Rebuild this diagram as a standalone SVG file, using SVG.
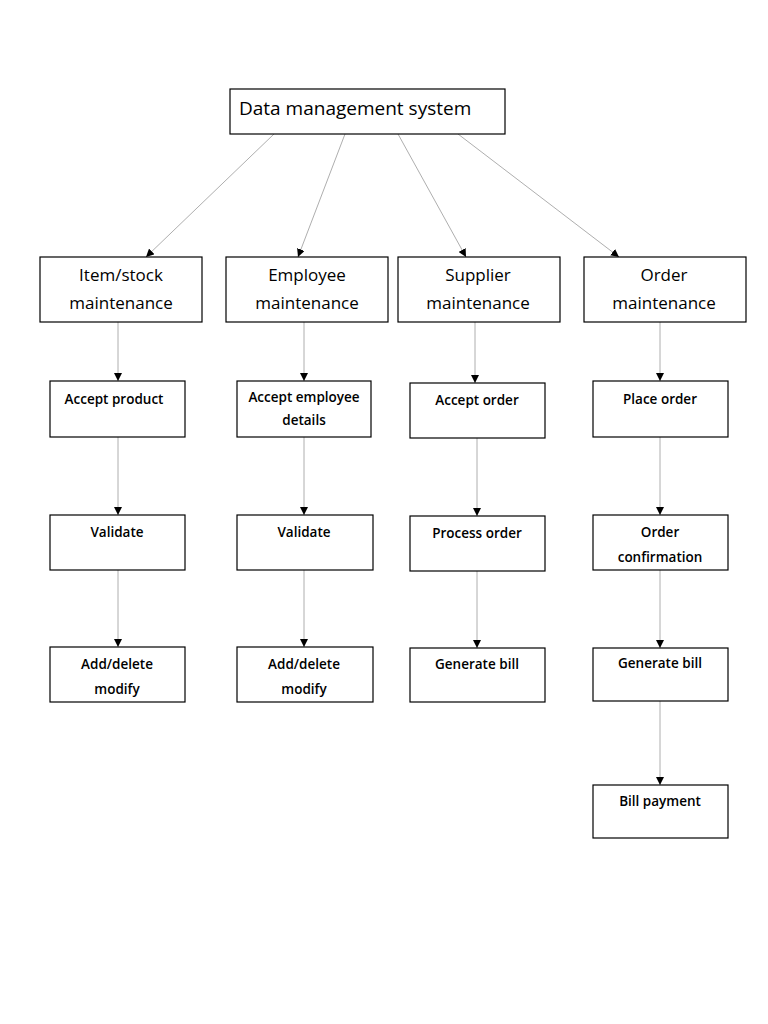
<svg xmlns="http://www.w3.org/2000/svg" width="768" height="1024" viewBox="0 0 768 1024">
<style>
rect{fill:#fff;stroke:#000;stroke-width:1.2}
.t{font-family:"Open Sans","Liberation Sans",sans-serif;font-size:17px;text-anchor:middle;fill:#000}
.r{font-family:"Open Sans","Liberation Sans",sans-serif;font-size:19px;fill:#000}
.b{font-family:"Open Sans","Liberation Sans",sans-serif;font-size:13.5px;font-weight:600;text-anchor:middle;fill:#000}
.c line{stroke:#999;stroke-width:0.8;marker-end:url(#a)}
</style>
<defs><marker id="a" markerWidth="8" markerHeight="8" refX="8" refY="4" orient="auto" markerUnits="userSpaceOnUse"><path d="M0,0L8,4L0,8z" fill="#000"/></marker></defs>
<rect width="768" height="1024" style="fill:#fff;stroke:none"/>
<g class="c">
<line x1="274" y1="134" x2="146" y2="257"/>
<line x1="345" y1="134" x2="298" y2="257"/>
<line x1="398" y1="134" x2="466" y2="257"/>
<line x1="458" y1="134" x2="619" y2="257"/>
<line x1="118" y1="322" x2="118" y2="381"/>
<line x1="304" y1="322" x2="304" y2="381"/>
<line x1="475" y1="322" x2="475" y2="383"/>
<line x1="660" y1="322" x2="660" y2="381"/>
<line x1="118" y1="437" x2="118" y2="515"/>
<line x1="304" y1="437" x2="304" y2="515"/>
<line x1="477" y1="438" x2="477" y2="516"/>
<line x1="660" y1="437" x2="660" y2="515"/>
<line x1="118" y1="570" x2="118" y2="647"/>
<line x1="304" y1="570" x2="304" y2="647"/>
<line x1="477" y1="571" x2="477" y2="648"/>
<line x1="660" y1="570" x2="660" y2="648"/>
<line x1="660" y1="701" x2="660" y2="785"/>
</g>
<g id="root"><rect x="230" y="89" width="275" height="45"/><text class="r" x="239" y="115">Data management system</text></g>
<g id="n1"><rect x="40" y="257" width="162" height="65"/><text class="t" x="121" y="281">Item/stock</text><text class="t" x="121" y="309">maintenance</text></g>
<g id="n2"><rect x="226" y="257" width="162" height="65"/><text class="t" x="307" y="281">Employee</text><text class="t" x="307" y="309">maintenance</text></g>
<g id="n3"><rect x="398" y="257" width="162" height="65"/><text class="t" x="478" y="281">Supplier</text><text class="t" x="478" y="309">maintenance</text></g>
<g id="n4"><rect x="584" y="257" width="162" height="65"/><text class="t" x="664" y="281">Order</text><text class="t" x="664" y="309">maintenance</text></g>
<g id="a1"><rect x="50" y="381" width="135" height="56"/><text class="b" x="114" y="404">Accept product</text></g>
<g id="a2"><rect x="237" y="381" width="134" height="56"/><text class="b" x="304" y="402">Accept employee</text><text class="b" x="304" y="425">details</text></g>
<g id="a3"><rect x="410" y="383" width="135" height="55"/><text class="b" x="477" y="405">Accept order</text></g>
<g id="a4"><rect x="593" y="381" width="135" height="56"/><text class="b" x="660" y="404">Place order</text></g>
<g id="b1"><rect x="50" y="515" width="135" height="55"/><text class="b" x="117" y="537">Validate</text></g>
<g id="b2"><rect x="237" y="515" width="136" height="55"/><text class="b" x="304" y="537">Validate</text></g>
<g id="b3"><rect x="410" y="516" width="135" height="55"/><text class="b" x="477" y="538">Process order</text></g>
<g id="b4"><rect x="593" y="515" width="135" height="55"/><text class="b" x="660" y="537">Order</text><text class="b" x="660" y="562">confirmation</text></g>
<g id="c1"><rect x="50" y="647" width="135" height="55"/><text class="b" x="117" y="669">Add/delete</text><text class="b" x="117" y="694">modify</text></g>
<g id="c2"><rect x="237" y="647" width="136" height="55"/><text class="b" x="304" y="669">Add/delete</text><text class="b" x="304" y="694">modify</text></g>
<g id="c3"><rect x="410" y="648" width="135" height="54"/><text class="b" x="477" y="669">Generate bill</text></g>
<g id="c4"><rect x="593" y="648" width="135" height="53"/><text class="b" x="660" y="668">Generate bill</text></g>
<g id="d4"><rect x="593" y="785" width="135" height="53"/><text class="b" x="660" y="806">Bill payment</text></g>
</svg>
